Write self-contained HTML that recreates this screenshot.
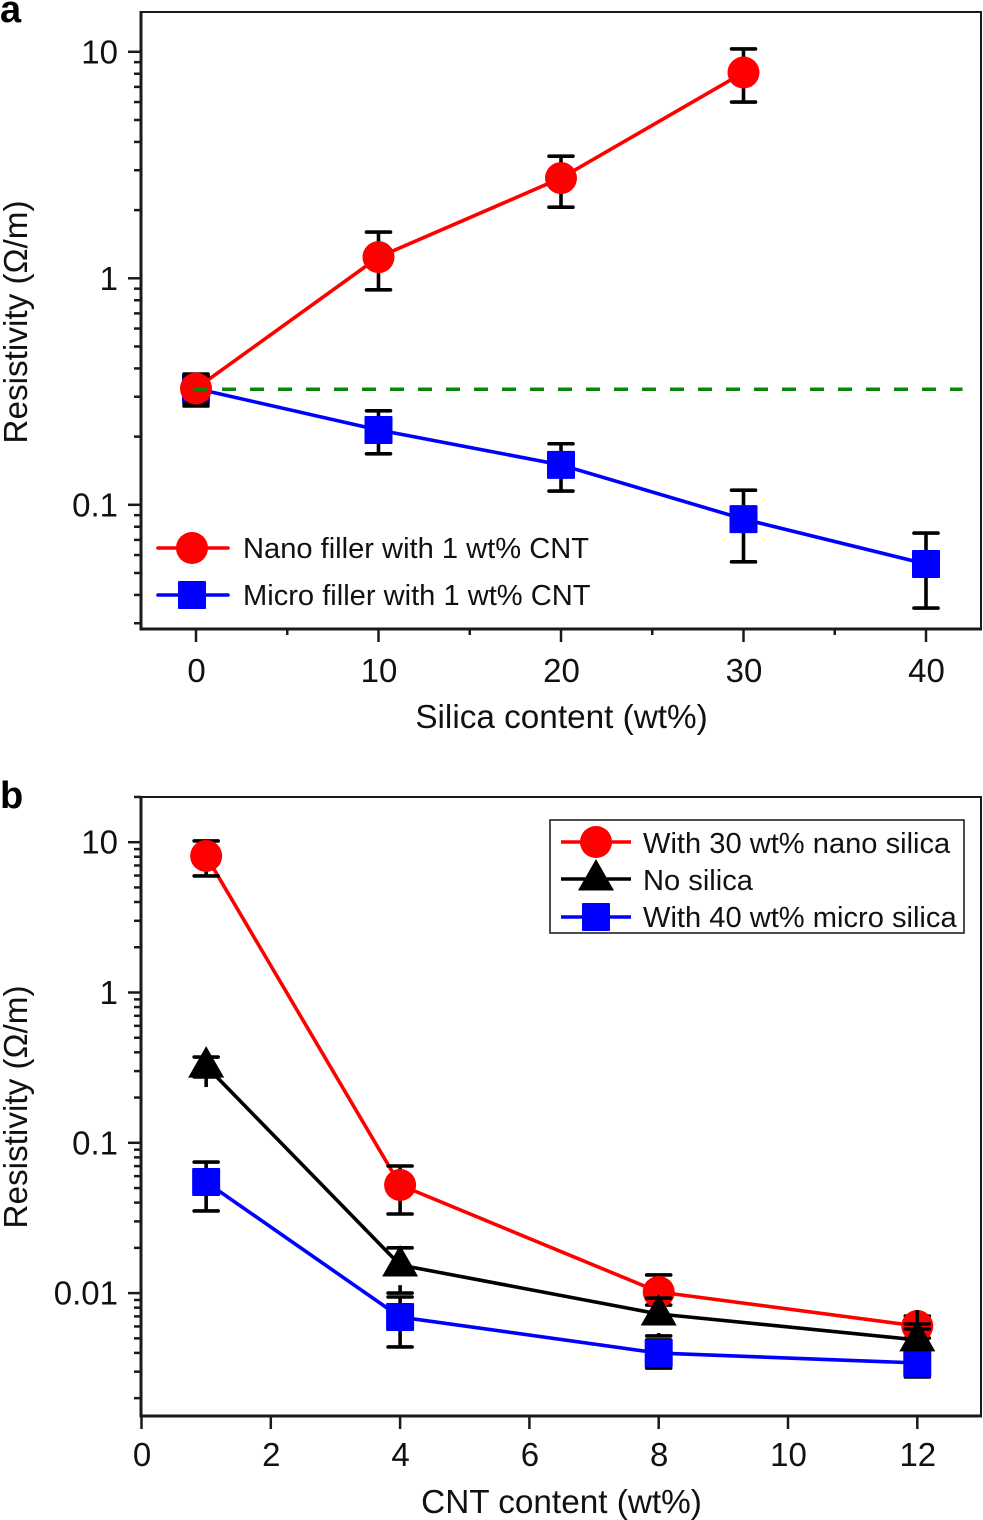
<!DOCTYPE html>
<html lang="en">
<head>
<meta charset="utf-8">
<title>Resistivity charts</title>
<style>
html,body{margin:0;padding:0;background:#fff;}
svg{display:block;font-family:"Liberation Sans",sans-serif;}
</style>
</head>
<body>
<svg id="chart" width="983" height="1520" viewBox="0 0 983 1520" xmlns="http://www.w3.org/2000/svg"></svg>
<script>
// ---- Panel a data ----
const aCategories = [0, 10, 20, 30, 40];
const aNano = [0.326, 1.24, 2.77, 8.1];
const aNanoHi = [0.37, 1.6, 3.46, 10.3];
const aNanoLo = [0.28, 0.89, 2.06, 6.0];
const aMicro = [0.326, 0.214, 0.15, 0.0865, 0.0548];
const aMicroHi = [0.378, 0.26, 0.186, 0.116, 0.075];
const aMicroLo = [0.273, 0.168, 0.115, 0.056, 0.035];
const aReference = [0.326, 0.326];
const aReferenceX = [0, 42];
const aXTicks = ['0', '10', '20', '30', '40'];
const aXMinor = [5, 15, 25, 35];
const aYTicks = [10, 1, 0.1];
const aYMinor = [9,8,7,6,5,4,3,2,0.9,0.8,0.7,0.6,0.5,0.4,0.3,0.2,0.09,0.08,0.07,0.06,0.05,0.04,0.03];
const aYLabels = ['10', '1', '0.1'];

// ---- Panel b data ----
const bCategories = [1, 4, 8, 12];
const bNano = [8.1, 0.0524, 0.01017, 0.00604];
const bNanoHi = [10.2, 0.0701, 0.0132, 0.00704];
const bNanoLo = [5.96, 0.0336, 0.00833, 0.00502];
const bNone = [0.324, 0.01538, 0.00726, 0.00488];
const bNoneHi = [0.372, 0.02, 0.00927, 0.00623];
const bNoneLo = [0.274, 0.01, 0.00519, 0.00425];
const bNoneTipHi = [null, null, null, 0.00772];
const bNoneTipLo = [0.235, 0.0113, 0.00542, 0.00425];
const bMicro = [0.0548, 0.00693, 0.00399, 0.00343];
const bMicroHi = [0.0745, 0.00942, 0.00488, 0.00577];
const bMicroLo = [0.0352, 0.00438, 0.00317, 0.00277];
const bXTicks = ['0', '2', '4', '6', '8', '10', '12'];
const bXTickValues = [0, 2, 4, 6, 8, 10, 12];
const bYTicks = [10, 1, 0.1, 0.01];
const bYLabels = ['10', '1', '0.1', '0.01'];
const bYMinor = [20,9,8,7,6,5,4,3,2,0.9,0.8,0.7,0.6,0.5,0.4,0.3,0.2,0.09,0.08,0.07,0.06,0.05,0.04,0.03,0.02,0.009,0.008,0.007,0.006,0.005,0.004,0.003,0.002];

// ---- Axis functions ----
const xA = v => 196 + 18.25 * v;
const yA = v => 278.3 - 226.5 * Math.log10(v);
const xB = v => 141.5 + 64.65 * v;
const yB = v => 992.5 - 150.3 * Math.log10(v);

const root = document.getElementById('chart');
const NS = 'http://www.w3.org/2000/svg';
const RED = '#ff0000', BLUE = '#0000ff', BLACK = '#000000', AXIS = '#1a1a1a';
const TICK_SIZE = 33, TITLE_SIZE = 33.3, LEGEND_SIZE = 29.1, STROKE = 3.6;

function mk(parent, tag, attrs, name, text) {
  const node = document.createElementNS(NS, tag);
  for (const k in attrs) node.setAttribute(k, attrs[k]);
  
  
  if (text !== undefined) node.textContent = text;
  parent.appendChild(node);
  return node;
}
function seg(parent, x1, y1, x2, y2, stroke, w, name) {
  return mk(parent, 'line', {x1, y1, x2, y2, stroke, 'stroke-width': w}, name);
}
function label(parent, x, y, str, size, anchor, name, extra) {
  return mk(parent, 'text', Object.assign({x, y, 'font-size': size, 'text-anchor': anchor, fill: '#111'}, extra || {}), name, str);
}
function marker(parent, kind, x, y, name) {
  if (kind === 'circle') return mk(parent, 'circle', {cx: x, cy: y, r: 16, fill: RED}, name);
  if (kind === 'square') return mk(parent, 'rect', {x: x - 14, y: y - 14, width: 28, height: 28, rx: 1, fill: BLUE}, name);
  return mk(parent, 'polygon', {points: `${x},${y - 20} ${x + 18},${y + 11.5} ${x - 18},${y + 11.5}`, fill: BLACK}, name);
}

function axes(g, box, xTickVals, xLabels, xScale, xMinor, yMajor, yLabels, yScale, yMinor, xBase, xTitle, xTitleY, yTitleY) {
  mk(g, 'rect', {x: box.l, y: box.t, width: box.r - box.l, height: box.b - box.t, fill: '#fff', stroke: AXIS, 'stroke-width': 2}, 'plot-frame');
  seg(g, box.l, box.t - 1, box.l, box.b + 1.5, AXIS, 3, 'y-axis-line');
  seg(g, box.l - 1.5, box.b, box.r + 1, box.b, AXIS, 3, 'x-axis-line');
  xTickVals.forEach((v, i) => {
    seg(g, xScale(v), box.b, xScale(v), box.b + 13, AXIS, 2.5, 'x-tick');
    label(g, xScale(v) + 0.5, xBase, xLabels[i], TICK_SIZE, 'middle', 'x-tick-label');
  });
  xMinor.forEach(v => seg(g, xScale(v), box.b, xScale(v), box.b + 6, AXIS, 2.5, 'x-minor-tick'));
  yMajor.forEach((v, i) => {
    seg(g, box.l - 13, yScale(v), box.l, yScale(v), AXIS, 2.5, 'y-tick');
    label(g, 118, yScale(v) + 11.5, yLabels[i], TICK_SIZE, 'end', 'y-tick-label');
  });
  yMinor.forEach(v => seg(g, box.l - 7, yScale(v), box.l, yScale(v), AXIS, 2.5, 'y-minor-tick'));
  label(g, 561.5, xTitleY, xTitle, TITLE_SIZE, 'middle', 'x-axis-title');
  const yt = label(g, 27, yTitleY, 'Resistivity (Ω/m)', TITLE_SIZE, 'middle', 'y-axis-title');
  yt.setAttribute('transform', `rotate(-90 27 ${yTitleY})`);
}

function series(g, opts) {
  const s = mk(g, 'g', {}, opts.name);
  const pts = opts.ys.map((v, i) => `${opts.xs[i]},${opts.ys[i]}`).join(' ');
  mk(s, 'polyline', {points: pts, fill: 'none', stroke: opts.color, 'stroke-width': STROKE, 'stroke-linejoin': 'round'}, opts.name + '-line');
  opts.ys.forEach((y, i) => {
    const x = opts.xs[i], hi = opts.hi[i], lo = opts.lo[i];
    const upTip = opts.tipHi && opts.tipHi[i] != null ? opts.tipHi[i] : hi;
    seg(s, x, y, x, upTip, BLACK, STROKE, opts.name + '-error-upper');
    if (opts.tipLo) seg(s, x, lo, x, opts.tipLo[i], BLACK, STROKE, opts.name + '-error-lower');
    else seg(s, x, y, x, lo, BLACK, STROKE, opts.name + '-error-lower');
    seg(s, x - 12, hi, x + 12, hi, BLACK, STROKE, opts.name + '-cap-upper').setAttribute('stroke-linecap', 'round');
    seg(s, x - 12, lo, x + 12, lo, BLACK, STROKE, opts.name + '-cap-lower').setAttribute('stroke-linecap', 'round');
  });
  opts.ys.forEach((y, i) => marker(s, opts.kind, opts.xs[i], y, opts.name + '-marker'));
}

// ---- Panel a ----
const pa = mk(root, 'g', {}, 'panel-a');
label(pa, 0, 22, 'a', 38, 'start', 'panel-label-a', {'font-weight': 'bold', fill: '#000'});
axes(pa, {l: 141, r: 981, t: 12, b: 629}, aCategories, aXTicks, xA, aXMinor, aYTicks, aYLabels, yA, aYMinor, 682, 'Silica content (wt%)', 728, 322);
series(pa, {name: 'micro-filler-series', kind: 'square', color: BLUE,
  xs: aMicro.map((_, i) => xA(aCategories[i])), ys: aMicro.map(yA), hi: aMicroHi.map(yA), lo: aMicroLo.map(yA)});
series(pa, {name: 'nano-filler-series', kind: 'circle', color: RED,
  xs: aNano.map((_, i) => xA(aCategories[i])), ys: aNano.map(yA), hi: aNanoHi.map(yA), lo: aNanoLo.map(yA)});
mk(pa, 'line', {x1: xA(aReferenceX[0]) - 2, y1: yA(aReference[0]) + 0.7, x2: xA(aReferenceX[1]), y2: yA(aReference[1]) + 0.7,
  stroke: '#0a850a', 'stroke-width': STROKE, 'stroke-dasharray': '14 14'}, 'reference-dashed-line');

const la = mk(pa, 'g', {}, 'legend-a');
seg(la, 158, 548, 228, 548, RED, STROKE, 'legend-line-nano').setAttribute('stroke-linecap', 'round');
marker(la, 'circle', 192, 548, 'legend-marker-nano');
label(la, 243, 558, 'Nano filler with 1 wt% CNT', LEGEND_SIZE, 'start', 'legend-entry-nano');
seg(la, 158, 595, 228, 595, BLUE, STROKE, 'legend-line-micro').setAttribute('stroke-linecap', 'round');
marker(la, 'square', 192, 595, 'legend-marker-micro');
label(la, 243, 605, 'Micro filler with 1 wt% CNT', LEGEND_SIZE, 'start', 'legend-entry-micro');

// ---- Panel b ----
const pb = mk(root, 'g', {}, 'panel-b');
label(pb, 0, 808, 'b', 38, 'start', 'panel-label-b', {'font-weight': 'bold', fill: '#000'});
axes(pb, {l: 141, r: 981, t: 797, b: 1416}, bXTickValues, bXTicks, xB, [], bYTicks, bYLabels, yB, bYMinor, 1466, 'CNT content (wt%)', 1513, 1107);
const bx = bCategories.map(xB);
series(pb, {name: 'nano-silica-series', kind: 'circle', color: RED, xs: bx, ys: bNano.map(yB), hi: bNanoHi.map(yB), lo: bNanoLo.map(yB)});
series(pb, {name: 'micro-silica-series', kind: 'square', color: BLUE, xs: bx, ys: bMicro.map(yB), hi: bMicroHi.map(yB), lo: bMicroLo.map(yB)});
series(pb, {name: 'no-silica-series', kind: 'triangle', color: BLACK, xs: bx, ys: bNone.map(yB), hi: bNoneHi.map(yB), lo: bNoneLo.map(yB),
  tipHi: bNoneTipHi.map(v => v == null ? null : yB(v)), tipLo: bNoneTipLo.map(yB)});

const lb = mk(pb, 'g', {}, 'legend-b');
mk(lb, 'rect', {x: 550, y: 820, width: 414, height: 113, fill: '#fff', stroke: '#222', 'stroke-width': 1.6}, 'legend-box');
seg(lb, 561, 842, 631, 842, RED, STROKE, 'legend-line-nano-silica');
marker(lb, 'circle', 596, 842, 'legend-marker-nano-silica');
label(lb, 643, 853, 'With 30 wt% nano silica', LEGEND_SIZE, 'start', 'legend-entry-nano-silica');
seg(lb, 561, 879, 631, 879, BLACK, STROKE, 'legend-line-no-silica');
marker(lb, 'triangle', 596, 879, 'legend-marker-no-silica');
label(lb, 643, 890, 'No silica', LEGEND_SIZE, 'start', 'legend-entry-no-silica');
seg(lb, 561, 917, 631, 917, BLUE, STROKE, 'legend-line-micro-silica');
marker(lb, 'square', 596, 917, 'legend-marker-micro-silica');
label(lb, 643, 927, 'With 40 wt% micro silica', LEGEND_SIZE, 'start', 'legend-entry-micro-silica');
</script>
</body>
</html>
